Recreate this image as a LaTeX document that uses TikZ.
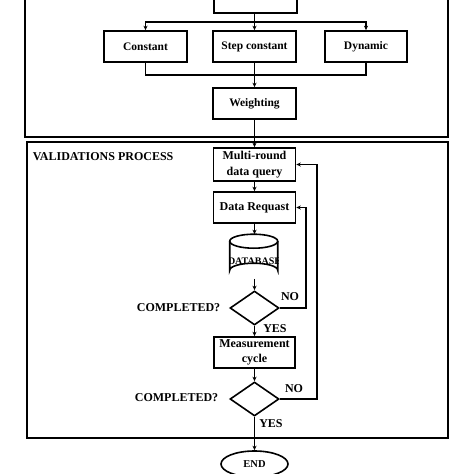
\documentclass[tikz,border=0pt]{standalone}
\usepackage{fontspec}
\setmainfont{Liberation Serif}
\usetikzlibrary{shapes.geometric,arrows.meta}
\begin{document}
\begin{tikzpicture}[x=1pt,y=-1pt,
  line width=1.6pt,
  arr/.style={-{Stealth[length=4.5pt,width=4pt]}},
  procbox/.style={draw,rectangle,inner sep=0pt,align=center,font=\bfseries\fontsize{11.5}{14}\selectfont},
  decbox/.style={draw,diamond,inner sep=0pt,minimum width=49pt,minimum height=34pt},
  lbl/.style={font=\bfseries\fontsize{12}{14}\selectfont,inner sep=0pt}]
\useasboundingbox (0,0) rectangle (474,474);
% frames
\draw (25,-10) rectangle (448,137);
\draw (27,142) rectangle (448,438);
% top section
\node[procbox,minimum width=83pt,minimum height=31pt] (tb) at (255.5,-2.5) {};
\node[procbox,minimum width=83pt,minimum height=31pt] (const) at (145.5,46.5) {Constant};
\node[procbox,minimum width=83pt,minimum height=31pt] (step) at (254.5,46.5) {Step constant};
\node[procbox,minimum width=82pt,minimum height=31pt] (dyn) at (366,46.5) {Dynamic};
\node[procbox,minimum width=83pt,minimum height=31pt] (weight) at (254.5,103.5) {Weighting};
\coordinate (split) at (254.5,22);
\coordinate (join) at (254.5,75);
\draw[arr] (tb.south -| step.north) -- (step.north);
\draw[arr] (split) -| (const.north);
\draw[arr] (split) -| (dyn.north);
\draw (const.south) |- (join);
\draw (dyn.south) |- (join);
\draw[arr] (step.south) -- (weight.north);
% validation section
\node[lbl,anchor=west] (vp) at (32,157) {VALIDATIONS PROCESS};
\node[procbox,minimum width=82pt,minimum height=33pt,font=\bfseries\fontsize{12}{15.5}\selectfont] (multi) at (254.5,164.5) {Multi-round\\data query};
\node[procbox,minimum width=82pt,minimum height=31pt,font=\bfseries\fontsize{12}{14}\selectfont] (req) at (254.5,207.5) {Data Requast};
% database cylinder
\node[minimum width=48pt,minimum height=43pt,inner sep=0pt] (db) at (254.5,256.5) {};
\begin{scope}
\clip (230.5,230) rectangle (278.5,285);
\node[font=\bfseries\fontsize{10}{11}\selectfont,inner sep=0pt] (dbt) at (254.5,261) {DATABASE};
\end{scope}
\draw (db.north west) ++(0,7) coordinate (dbtl)
  arc[start angle=180,end angle=360,x radius=24pt,y radius=-7pt]
  arc[start angle=0,end angle=180,x radius=24pt,y radius=-7pt];
\draw (dbtl) -- ++(0,29) arc[start angle=180,end angle=360,x radius=24pt,y radius=-7pt] -- ++(0,-29);
\node[decbox] (d1) at (254.5,308) {};
\node[procbox,minimum width=81pt,minimum height=31pt,font=\bfseries\fontsize{12}{15}\selectfont] (meas) at (254.5,352.5) {Measurement\\cycle};
\node[decbox] (d2) at (254.5,399) {};
\node[draw,ellipse,minimum width=67pt,minimum height=26pt,inner sep=0pt,font=\bfseries\fontsize{10.5}{12}\selectfont] (end) at (254.5,464) {END};
\draw[arr] (weight.south) -- (multi.north);
\draw[arr] (multi.south) -- (req.north);
\draw[arr] (req.south) -- (db.north);
\draw[arr] (db.south) -- (d1.north);
\draw[arr] (d1.south) -- (meas.north);
\draw[arr] (meas.south) -- (d2.north);
\draw[arr] (d2.south) -- (end.north);
\coordinate (r1) at (306,308);
\coordinate (r2) at (317,399);
\draw[arr] (d1.east) -- (r1) |- (req.east);
\draw[arr] (d2.east) -- (r2) |- (multi.east);
% labels
\node[lbl,anchor=east] (c1) at (221,308) {COMPLETED?};
\node[lbl,anchor=east] (c2) at (219,398) {COMPLETED?};
\node[lbl] (no1) at (290,297) {NO};
\node[lbl] (yes1) at (275,329) {YES};
\node[lbl] (no2) at (294,389) {NO};
\node[lbl] (yes2) at (271,424) {YES};
\end{tikzpicture}
\end{document}
